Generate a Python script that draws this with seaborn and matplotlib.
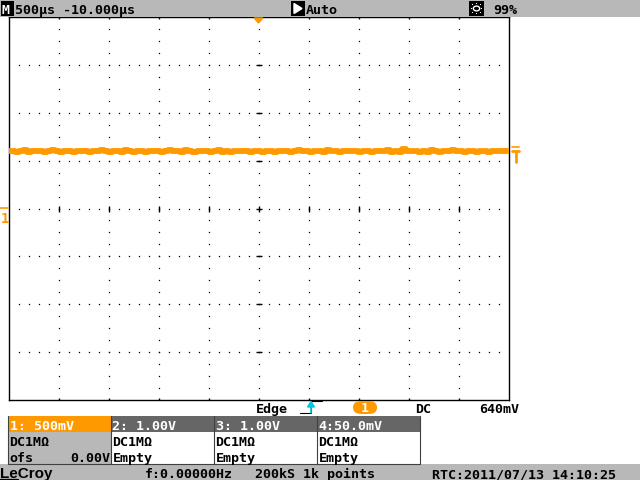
import numpy as np
import pandas as pd
import matplotlib
matplotlib.use('Agg')
import matplotlib.pyplot as plt
from matplotlib.patches import Rectangle, Polygon, FancyBboxPatch, Circle
from matplotlib.lines import Line2D
import seaborn as sns

# scope settings
timebase = '500µs'
delay = '-10.000µs'
trig_mode = 'Auto'
brightness = '99%'
trig_type = 'Edge'
trig_coupling = 'DC'
trig_level = '640mV'
trig_level_mv = 640
ch_volts_per_div = 500  # mV/div, channel 1

channels = ['1: 500mV', '2: 1.00V', '3: 1.00V', '4:50.0mV']
coupling = ['DC1MΩ', 'DC1MΩ', 'DC1MΩ', 'DC1MΩ']
third_row = ['ofs', 'Empty', 'Empty', 'Empty']
ch1_offset = '0.00V'

freq_text = 'f:0.00000Hz'
acq_text = '200kS 1k points'
rtc_text = 'RTC:2011/07/13 14:10:25'

# channel 1 trace, mV (flat DC level with a little noise)
trace_mv = [
    598, 602, 595, 600, 606, 593, 599, 604, 597, 591, 600, 608, 596, 594, 602, 599, 589, 601, 605, 597,
    593, 600, 598, 611, 596, 592, 603, 599, 595, 607, 600, 594, 598, 602, 588, 597, 604, 599, 593, 601,
    606, 596, 600, 594, 616, 598, 592, 603, 597, 601, 595, 599, 608, 594, 600, 587, 598, 603, 596, 600,
    593, 604, 599, 595, 602, 598, 590, 601, 605, 597, 594, 600, 609, 596, 599, 593, 602, 598, 595, 614,
    600, 596, 591, 603, 599, 597, 605, 594, 600, 598, 589, 602, 596, 601, 607, 595, 599, 593, 618, 600,
    597, 603, 595, 599, 591, 606, 598, 594, 601, 597, 610, 596, 600, 588, 602, 598, 595, 604, 599, 593,
    601, 597, 605, 596, 600,
]

W, H = 640, 480
ORANGE = '#ff9900'
GREY = '#b8b8b8'
DARK = '#666666'
FONT = ['DejaVu Sans Mono']

sns.set_style('white')
plt.rcParams['font.family'] = FONT

fig = plt.figure(figsize=(6.4, 4.8), dpi=100)
fig.patch.set_facecolor('white')


def fx(x):
    return x / W


def fy(y):
    return 1 - y / H


def rect(x0, y0, x1, y1, color):
    fig.add_artist(Rectangle((fx(x0), fy(y1)), (x1 - x0) / W, (y1 - y0) / H,
                             transform=fig.transFigure, facecolor=color,
                             edgecolor='none', zorder=1))


def line(xs, ys, color='black', lw=0.75):
    fig.add_artist(Line2D([fx(x) for x in xs], [fy(y) for y in ys],
                          transform=fig.transFigure, color=color, lw=lw, zorder=3))


def txt(x, y, s, color='black', ha='left', size=9.6, family=None, weight='bold', **kw):
    fig.text(fx(x), fy(y), s, color=color, ha=ha, va='baseline', weight=weight,
             fontsize=size, family=family or FONT, zorder=4, **kw)


# ---- graticule axes ----
ax = fig.add_axes([fx(9), fy(400), 500 / W, 383 / H])
df = pd.DataFrame({'t': np.linspace(-2500, 2500, len(trace_mv)), 'v': trace_mv})
ax.set_xlim(-2500, 2500)
ax.set_ylim(-4 * ch_volts_per_div, 4 * ch_volts_per_div)

# dotted grid
xmaj = np.arange(-2000, 2001, 500)
ymaj = np.arange(-1500, 1501, 500)
for xv in xmaj:
    yy = np.arange(-2000 + 125, 2000, 125)
    ax.plot(np.full_like(yy, xv, dtype=float), yy, ls='none', marker='s', ms=0.9,
            mew=0, color='black', zorder=1)
for yv in ymaj:
    xx = np.arange(-2500 + 100, 2500, 100)
    ax.plot(xx, np.full_like(xx, yv, dtype=float), ls='none', marker='s', ms=0.9,
            mew=0, color='black', zorder=1)
# centre line ticks
ax.plot(xmaj, np.zeros(len(xmaj)), ls='none', marker='|', ms=4, mew=1, color='black', zorder=1)
ax.plot(np.zeros(len(ymaj)), ymaj, ls='none', marker='_', ms=4, mew=1, color='black', zorder=1)
# edge ticks
ax.plot(xmaj, np.full(len(xmaj), 2000), ls='none', marker='|', ms=3, mew=1, color='black', zorder=1)
ax.plot(xmaj, np.full(len(xmaj), -2000), ls='none', marker='|', ms=3, mew=1, color='black', zorder=1)

sns.lineplot(data=df, x='t', y='v', ax=ax, color=ORANGE, lw=4.2,
             drawstyle='steps-mid', zorder=3)

ax.set_xticks([])
ax.set_yticks([])
ax.set_xlabel('')
ax.set_ylabel('')
for sp in ax.spines.values():
    sp.set_color('black')
    sp.set_linewidth(1.0)
    sp.set_visible(True)

# trigger position marker (top)
fig.add_artist(Polygon([(fx(254), fy(18)), (fx(263), fy(18)), (fx(258.5), fy(23))],
                       closed=True, transform=fig.transFigure, color=ORANGE, zorder=5))

# channel 1 ground marker (left)
line([0, 8], [208, 208], color=ORANGE, lw=1.2)
txt(1, 223, '1', color=ORANGE, size=10)

# trigger level marker (right)
ty = 208.5 - trig_level_mv / ch_volts_per_div * (383 / 8)
line([512, 519], [ty, ty], color=ORANGE, lw=1.2)
line([512, 519], [ty + 4, ty + 4], color=ORANGE, lw=2)
line([515.5, 515.5], [ty + 4, ty + 15], color=ORANGE, lw=2)

# ---- top status bar ----
rect(0, 0, 640, 17, GREY)
rect(1, 1, 14, 16, 'black')
txt(1.5, 14, 'M', color='white', size=9.6)
txt(15, 14, timebase + ' ' + delay)
rect(291, 1, 305, 16, 'black')
fig.add_artist(Polygon([(fx(294), fy(3.5)), (fx(294), fy(13.5)), (fx(302), fy(8.5))],
                       closed=True, transform=fig.transFigure, color='white', zorder=3))
txt(306, 14, trig_mode)
rect(469, 1, 484, 16, 'black')
fig.add_artist(Circle((fx(476.5), fy(8.5)), 3.2 / W, transform=fig.transFigure,
                      facecolor='none', edgecolor='white', lw=1, zorder=3))
for dx, dy in [(-5, 0), (5, 0), (0, -5), (0, 5), (-4, -4), (4, 4), (-4, 4), (4, -4)]:
    rect(476 + dx, 8 + dy, 477 + dx, 9 + dy, 'white')
txt(493, 14, brightness)

# ---- trigger info row ----
txt(256, 413, trig_type)
line([300, 311, 311, 322], [413, 413, 401, 401], color='black', lw=0.8)
fig.add_artist(Polygon([(fx(307.5), fy(407)), (fx(314.5), fy(407)), (fx(311), fy(401.5))],
                       closed=True, transform=fig.transFigure, color='#00c8e0', zorder=5))
line([311, 311], [406, 413], color='#00c8e0', lw=1.2)
fig.add_artist(FancyBboxPatch((fx(353), fy(414)), 24 / W, 13 / H,
                              boxstyle='round,pad=0,rounding_size=0.013',
                              transform=fig.transFigure, facecolor=ORANGE,
                              edgecolor='none', zorder=3))
txt(365, 412.5, '1', color='white', ha='center', size=9.6)
txt(415, 413, trig_coupling)
txt(519, 413, trig_level, ha='right')

# ---- channel panels ----
edges = [8, 111, 214, 317, 420]
for i, name in enumerate(channels):
    x0, x1 = edges[i], edges[i + 1]
    rect(x0, 416, x1, 432, ORANGE if i == 0 else DARK)
    rect(x0, 432, x1, 464, GREY if i == 0 else 'white')
    txt(x0 + 1.5, 430, name, color='white')
    txt(x0 + 1.5, 446, coupling[i])
    txt(x0 + 1.5, 462, third_row[i])
txt(110.5, 462, ch1_offset, ha='right')
for xe in edges:
    line([xe, xe], [416, 464], color='#404040', lw=0.8)
line([8, 420], [464, 464], color='#404040', lw=0.8)

# ---- bottom bar ----
rect(0, 464, 640, 480, GREY)
txt(0, 478, 'LeCroy', size=11, family=['Liberation Sans'])
line([0, 18], [479, 479], color='black', lw=0.9)
txt(145, 478, freq_text)
txt(255, 478, acq_text)
txt(432, 478, rtc_text)

fig.savefig('out.png', dpi=100, facecolor='white')
